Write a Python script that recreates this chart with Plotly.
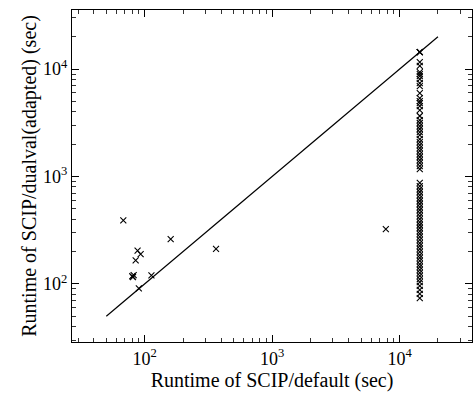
import plotly.graph_objects as go

# Left cluster / scattered instances (x = default runtime, y = dualval(adapted) runtime)
default_runtime = [68, 88, 93, 85, 80, 82, 81, 113, 90, 160, 363, 7800]
dualval_runtime = [390, 204, 190, 166, 118, 121, 116, 120, 91, 261, 212, 324]

# Instances where SCIP/default hit the time limit
timeout_default = 14400
timeout_dualval = [14400, 14400, 14400, 11600, 10700, 9380, 8980, 8610, 8070, 7410, 6950,
                   5980, 5370, 5040, 4830, 4530, 4160, 3660, 3350, 3150, 2950, 2770,
                   2590, 2430, 2230, 2090, 1960, 1840, 1730, 1620, 1520, 1420, 1340,
                   1250, 1170, 871, 816, 765, 718, 673, 631, 592, 555, 520, 488, 457,
                   429, 402, 377, 354, 332, 311, 292, 274, 257, 240, 226, 212, 199,
                   186, 175, 164, 153, 144, 135, 127, 119, 111, 104, 96, 88, 81, 74]

# Diagonal reference line y = x
diag = [50, 20000]

tick_vals = [100, 1000, 10000]
tick_text = ["10<sup>2</sup>", "10<sup>3</sup>", "10<sup>4</sup>"]
minor_vals = [m * 10 ** e for e in range(1, 5) for m in range(2, 10)]

all_x = default_runtime + [timeout_default] * len(timeout_dualval)
all_y = dualval_runtime + timeout_dualval

font_family = "Liberation Serif"
xrange = [1.43, 4.568]
yrange = [1.46, 4.55]

fig = go.Figure()
fig.add_trace(go.Scatter(x=diag, y=diag, mode="lines",
                         line=dict(color="black", width=1.2), showlegend=False))
fig.add_trace(go.Scatter(x=all_x, y=all_y, mode="markers",
                         marker=dict(symbol="x-thin", size=6, color="black",
                                     line=dict(color="black", width=1.1)),
                         showlegend=False))

major_axis = dict(
    type="log", showgrid=False, zeroline=False,
    showline=True, linecolor="black", linewidth=1, mirror="ticks",
    ticks="inside", ticklen=7, tickcolor="black", tickwidth=0.8,
    tickvals=tick_vals, ticktext=tick_text,
    tickfont=dict(family=font_family, size=18, color="black"),
)
minor_axis = dict(
    type="log", showgrid=False, zeroline=False, showline=False,
    mirror="ticks", ticks="inside", ticklen=4, tickcolor="#333", tickwidth=0.7,
    tickvals=minor_vals, showticklabels=False,
)

fig.update_layout(
    width=474, height=405,
    margin=dict(l=72, r=2, t=10, b=63),
    paper_bgcolor="white", plot_bgcolor="white",
    font=dict(family=font_family, color="black"),
    xaxis=dict(major_axis, range=xrange,
               title=dict(text="Runtime of SCIP/default (sec)",
                          font=dict(family=font_family, size=20), standoff=1)),
    yaxis=dict(major_axis, range=yrange,
               title=dict(text="Runtime of SCIP/dualval(adapted) (sec)",
                          font=dict(family=font_family, size=20), standoff=1)),
    xaxis2=dict(minor_axis, range=xrange, overlaying="x", side="bottom", anchor="y"),
    yaxis2=dict(minor_axis, range=yrange, overlaying="y", side="left", anchor="x"),
)

# invisible trace to activate the minor-tick axes
fig.add_trace(go.Scatter(x=[diag[0]], y=[diag[0]], xaxis="x2", yaxis="y2",
                         mode="markers", marker=dict(opacity=0), showlegend=False,
                         hoverinfo="skip"))

fig.write_html("out.html")
